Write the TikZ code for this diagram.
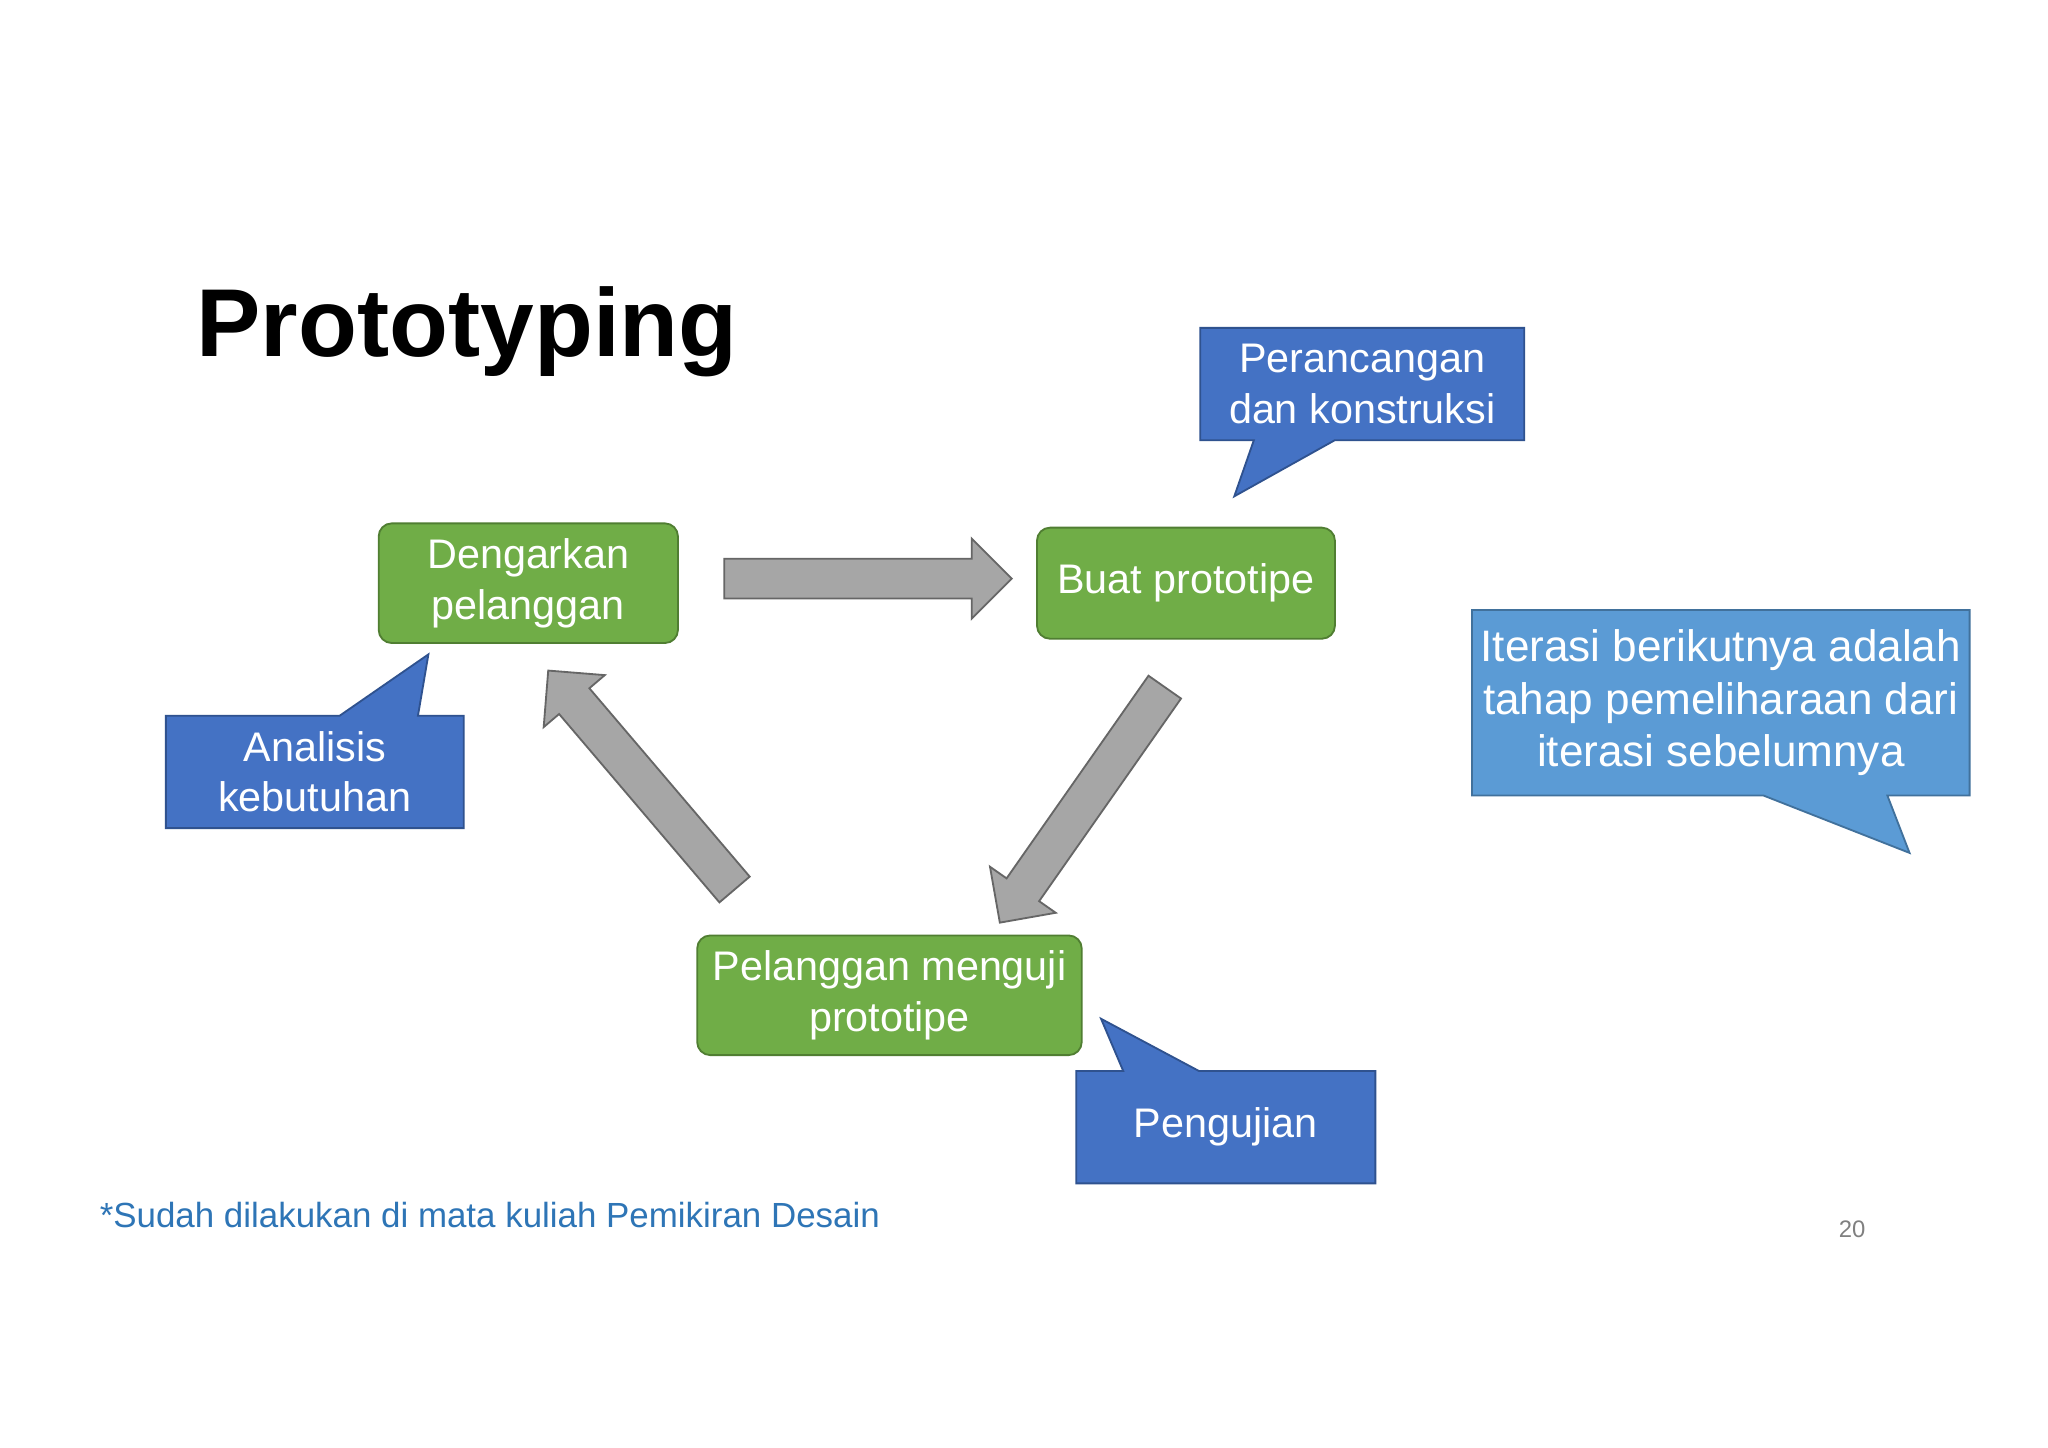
\documentclass[tikz,border=0pt]{standalone}
\usepackage{fontspec}
\setmainfont{Liberation Sans}
\usetikzlibrary{shapes.arrows}
\definecolor{gfill}{HTML}{70AD47}
\definecolor{gdraw}{HTML}{507E32}
\definecolor{bfill}{HTML}{4472C4}
\definecolor{bdraw}{HTML}{2F528F}
\definecolor{lfill}{HTML}{5B9BD5}
\definecolor{ldraw}{HTML}{41719C}
\definecolor{foot}{HTML}{2E75B6}
\tikzset{
 gbox/.style={draw=gdraw,fill=gfill,rounded corners=0.1cm,text=white,align=center,font=\fontsize{9}{11}\selectfont},
 call/.style={draw=bdraw,fill=bfill,line width=0.4pt},
 ctext/.style={text=white,align=center,font=\fontsize{9}{11}\selectfont},
 garrow/.style={single arrow,draw=gray!80!black,fill=gray!70,inner sep=0pt,minimum height=2.2cm,
   text height=0.29cm,text depth=0pt,single arrow head extend=0.155cm,single arrow head indent=0pt}
}
\begin{document}
\begin{tikzpicture}[x=0.01cm,y=-0.01cm]
\useasboundingbox[fill=white] (0,0) rectangle (1568,1108);
\node[anchor=base west,font=\fontsize{21}{24}\selectfont\bfseries] (title) at (138,273) {Prototyping};
% green boxes
\node[gbox,minimum width=2.29cm,minimum height=0.85cm] (d) at (404.5,446.5) {Dengarkan\\pelanggan};
\node[gbox,minimum width=2.28cm,minimum height=0.85cm] (b) at (908,446.5) {Buat prototipe};
\node[gbox,minimum width=2.86cm,minimum height=0.86cm] (p) at (681,762) {Pelanggan menguji\\prototipe};
% arrows
\node[garrow] (a1) at (657,443) {};
\node[garrow,rotate=-125] (a2) at (833,610) {};
\node[garrow,rotate=130.4] (a3) at (496,603) {};
% callouts
\draw[call] (919,251) -- (1167,251) -- (1167,337) -- (1022,337) -- (945,380) -- (960,337) -- (919,337) -- cycle;
\node[ctext] (c1) at (1043,294) {Perancangan\\dan konstruksi};
\draw[call] (127,548) -- (260,548) -- (328,501) -- (320,548) -- (355,548) -- (355,634) -- (127,634) -- cycle;
\node[ctext] (c2) at (241,591) {Analisis\\kebutuhan};
\draw[call] (824,820) -- (860,820) -- (843,780) -- (918,820) -- (1053,820) -- (1053,906) -- (824,906) -- cycle;
\node[ctext] (c3) at (938.5,863) {Pengujian};
\draw[call,draw=ldraw,fill=lfill] (1127,467) -- (1508,467) -- (1508,609) -- (1445,609) -- (1462,653) -- (1350,609) -- (1127,609) -- cycle;
\node[ctext,font=\fontsize{9.6}{11.5}\selectfont] (c4) at (1317.5,538) {Iterasi berikutnya adalah\\tahap pemeliharaan dari\\iterasi sebelumnya};
\node[anchor=west,text=foot,font=\fontsize{7.6}{9}\selectfont] (fn) at (64,930) {*Sudah dilakukan di mata kuliah Pemikiran Desain};
\node[text=gray,font=\fontsize{5.2}{6}\selectfont] (pg) at (1418,941) {20};
\end{tikzpicture}
\end{document}
